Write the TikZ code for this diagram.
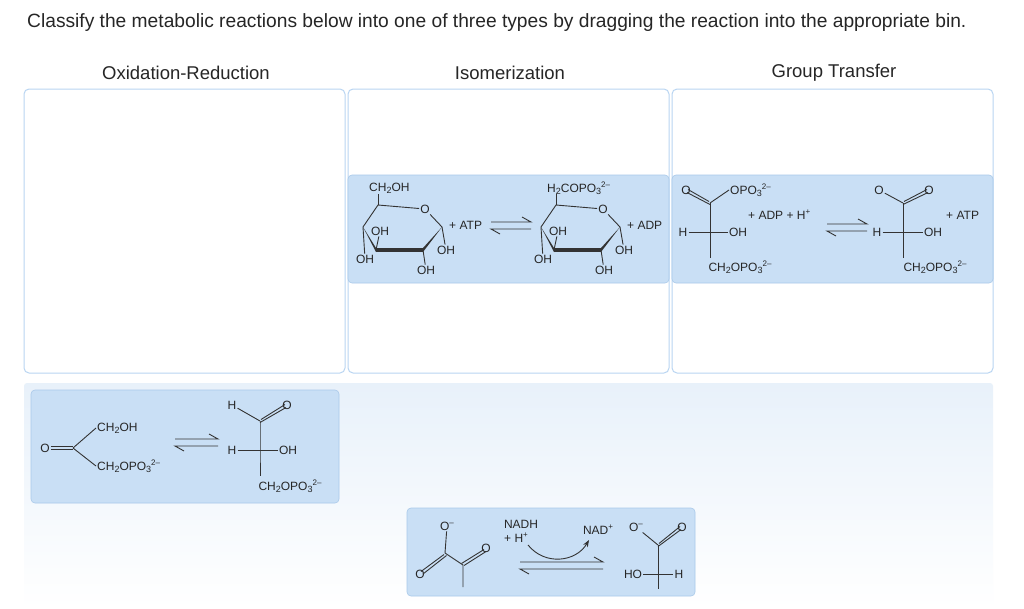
\documentclass[tikz,border=0pt]{standalone}
\usepackage{fontspec}
\setmainfont{Liberation Sans}
\usetikzlibrary{arrows.meta,calc}
\definecolor{cardc}{HTML}{C9DFF5}
\definecolor{cardd}{HTML}{A9C9EA}
\definecolor{binb}{HTML}{B9D5F2}
\definecolor{areac}{HTML}{E8F1FA}
\newcommand\mysub[1]{\raisebox{-0.35ex}{\fontsize{9}{10}\selectfont #1}}
\newcommand\mysup[1]{\raisebox{0.8ex}{\fontsize{8}{9}\selectfont #1}}
\begin{document}
\begin{tikzpicture}[x=1pt,y=-1pt,
  lab/.style={font=\fontsize{12}{14}\selectfont, inner sep=1pt, text=black!85},
  bond/.style={line width=0.9pt, draw=black!80},
  card/.style={fill=cardc, draw=cardd, line width=0.6pt, rounded corners=4pt},
  bin/.style={fill=white, draw=binb, line width=1pt, rounded corners=5pt},
  hdr/.style={font=\fontsize{18.5}{22}\selectfont, text=black!85}]
\useasboundingbox (0,0) rectangle (1024,608);
\fill[white] (0,0) rectangle (1024,608);
\node[anchor=west, font=\fontsize{19.2}{23}\selectfont, text=black!85, inner sep=0pt] (title) at (27,23) {Classify the metabolic reactions below into one of three types by dragging the reaction into the appropriate bin.};
\node[hdr] (h1) at (186,73) {Oxidation-Reduction};
\node[hdr] (h2) at (510,73) {Isomerization};
\node[hdr] (h3) at (834,73) {Group Transfer};
\draw[bin] (24,89) rectangle (345,373);
\draw[bin] (348,89) rectangle (669,373);
\draw[bin] (672,89) rectangle (993,373);
\shade[top color=areac, bottom color=white, rounded corners=3pt] (24,383) rectangle (993,608);
% cards
\draw[card] (348,175) rectangle (669,283);
\draw[card] (672,175) rectangle (993,283);
\draw[card] (31,390) rectangle (339,503);
\draw[card] (407,508) rectangle (695,596);
% glucose rings
\foreach \dx/\toplab/\plus in {0/{CH\mysub{2}OH}/{+ ATP}, 178/{H\mysub{2}COPO\mysub{3}\mysup{2--}}/{+ ADP}}{
\begin{scope}[xshift=\dx]
\coordinate (C5) at (378,205); \node[lab] (O) at (425,209) {O};
\coordinate (C1) at (442,227); \coordinate (C2) at (423,250);
\coordinate (C3) at (376,250); \coordinate (C4) at (363,227);
\draw[bond] (C4)--(C5)--(O)--(C1);
\fill[black!80] (C4)--($(C3)+(0,-2)$)--($(C3)+(0,2)$)--cycle;
\fill[black!80] (C1)--($(C2)+(0,-2)$)--($(C2)+(0,2)$)--cycle;
\draw[line width=3.5pt, black!80] (C3)--(C2);
\node[lab, anchor=west] (tl) at (368,188) {\toplab};
\draw[bond] (C5)--++(0,-11);
\node[lab] (o4) at (365,259) {OH}; \draw[bond] (C4)--(o4);
\node[lab] (o3) at (380,231) {OH}; \draw[bond] (C3)--(o3);
\node[lab] (o2) at (426,270) {OH}; \draw[bond] (C2)--(o2);
\node[lab] (o1) at (446,250) {OH}; \draw[bond] (C1)--(o1);
\node[lab, anchor=west] (pl) at (448,225) {\plus};
\end{scope}}
% equilibrium arrows
\foreach \x/\y/\w in {491/222/40, 827/224/40, 175/439/43, 520/562/83}{
  \draw[bond] (\x,\y)--++(\w,0)--++(-9,-5);
  \draw[bond] (\x+\w,\y+7)--++(-\w,0)--++(9,5);
}
% card 2 left
\coordinate (k1) at (710,203); \coordinate (k2) at (710,232);
\node[lab] (ko) at (686,190) {O};
\node[lab, anchor=west] (kp) at (729,190) {OPO\mysub{3}\mysup{2--}};
\node[lab] (kh) at (683,232) {H};
\node[lab] (koh) at (738,232) {OH};
\node[lab] (kc) at (740,267) {CH\mysub{2}OPO\mysub{3}\mysup{2--}};
\draw[bond] (k1)--(kp.west); \draw[bond] ($(k1)+(0,1.5)$)--($(ko)+(1,2.5)$); \draw[bond] ($(k1)+(-1,-1.5)$)--($(ko)+(2,-0.5)$);
\draw[bond] (k1)--(k2)--(710,258); \draw[bond] (kh)--(koh);
\node[lab, anchor=west] (kadp) at (747,215) {+ ADP + H\mysup{+}};
% card 2 right
\coordinate (m1) at (903,203); \coordinate (m2) at (903,232);
\node[lab] (mo) at (879,190) {O};
\node[lab] (mo2) at (929,190) {O};
\node[lab] (mh) at (877,232) {H};
\node[lab] (moh) at (933,232) {OH};
\node[lab] (mc) at (935,267) {CH\mysub{2}OPO\mysub{3}\mysup{2--}};
\draw[bond] (m1)--(mo); \draw[bond] ($(m1)+(0,1.5)$)--($(mo2)+(-1,2.5)$); \draw[bond] ($(m1)+(1,-1.5)$)--($(mo2)+(-2,-0.5)$);
\draw[bond] (m1)--(m2)--(903,258); \draw[bond] (mh)--(moh);
\node[lab, anchor=west] (matp) at (945,215) {+ ATP};
% card 3
\node[lab] (do) at (45,448) {O}; \coordinate (dc) at (73,448);
\draw[bond] ($(do.east)+(0,-1.5)$)--($(dc)+(0,-1.5)$); \draw[bond] ($(do.east)+(0,1.5)$)--($(dc)+(0,1.5)$);
\node[lab, anchor=west] (dh) at (96,428) {CH\mysub{2}OH};
\node[lab, anchor=west] (dp) at (96,466) {CH\mysub{2}OPO\mysub{3}\mysup{2--}};
\draw[bond] (dc)--(dh.west); \draw[bond] (dc)--(dp.west);
\coordinate (g1) at (260,421); \coordinate (g2) at (260,450);
\node[lab] (gh) at (232,405) {H}; \node[lab] (go) at (287,405) {O};
\node[lab] (gh2) at (232,450) {H}; \node[lab] (goh) at (288,450) {OH};
\node[lab] (gc) at (290,486) {CH\mysub{2}OPO\mysub{3}\mysup{2--}};
\draw[bond] (g1)--(gh); \draw[bond] ($(g1)+(0,1.5)$)--($(go)+(-1,2.5)$); \draw[bond] ($(g1)+(1,-1.5)$)--($(go)+(-2,-0.5)$);
\draw[bond] (g1)--(g2)--(260,476); \draw[bond] (gh2)--(goh);
% card 4
\node[lab] (po) at (447,526) {O\mysup{--}}; \coordinate (pc) at (445,553);
\node[lab] (pod) at (420,574) {O}; \coordinate (pk) at (463,565);
\node[lab] (pok) at (486,548) {O};
\draw[bond] (po)--(pc)--(pk)--(463,587);
\draw[bond] ($(pc)+(-1,1.5)$)--($(pod)+(1,-2.5)$); \draw[bond] ($(pc)+(1.5,2.5)$)--($(pod)+(3,0)$);
\draw[bond] ($(pk)+(-1.5,-1.5)$)--($(pok)+(-2,1.5)$); \draw[bond] ($(pk)+(1,0.5)$)--($(pok)+(0,3.5)$);
\node[lab] (nadh) at (521,524) {NADH}; \node[lab] (hp) at (516,538) {+ H\mysup{+}};
\node[lab] (nad) at (598,530) {NAD\mysup{+}};
\draw[bond, -{Stealth[length=7pt]}] (528,545) .. controls (545,566) and (576,562) .. (589,540);
\coordinate (q1) at (658,545); \coordinate (q2) at (658,573);
\node[lab] (qo) at (636,527) {O\mysup{--}}; \node[lab] (qo2) at (682,527) {O};
\node[lab] (qho) at (633,574) {HO}; \node[lab] (qh) at (679,574) {H};
\draw[bond] (q1)--(qo); \draw[bond] ($(q1)+(0,1.5)$)--($(qo2)+(-1,2.5)$); \draw[bond] ($(q1)+(1,-1.5)$)--($(qo2)+(-2,-0.5)$);
\draw[bond] (q1)--(q2)--(658,589); \draw[bond] (qho)--(qh);
\end{tikzpicture}
\end{document}
